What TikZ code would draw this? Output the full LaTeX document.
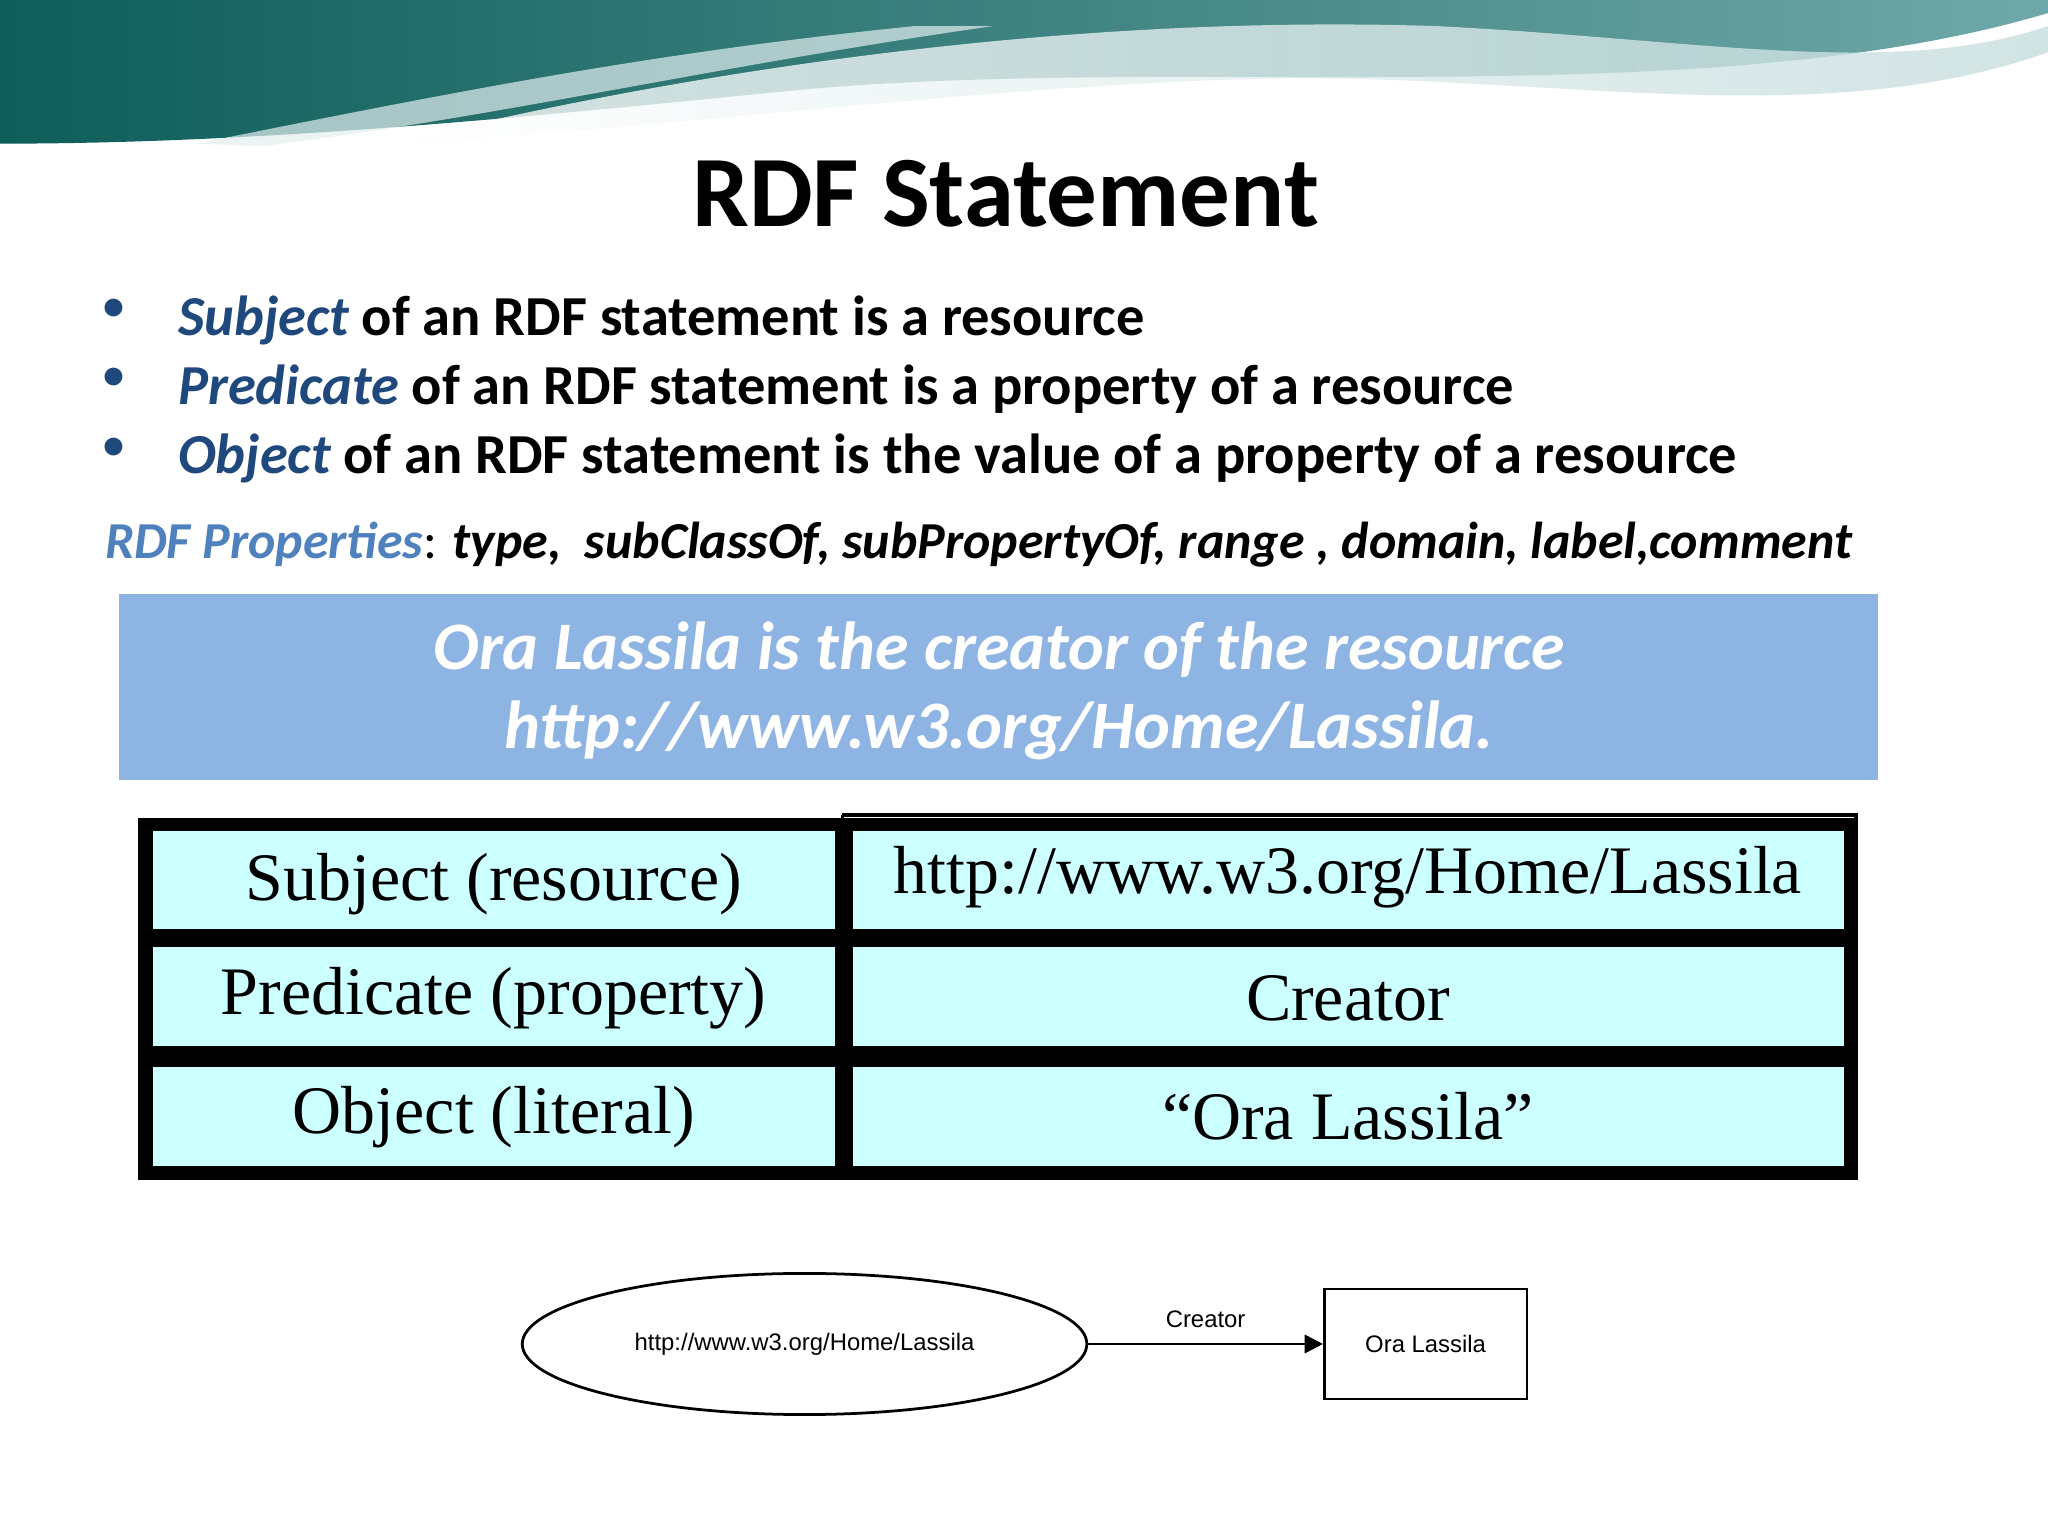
\documentclass[tikz,border=0pt]{standalone}
\usepackage{fontspec}
\setmainfont{Carlito}
\newfontfamily\tms{Liberation Serif}
\newfontfamily\ars{Liberation Sans}
\usetikzlibrary{shapes.geometric,arrows.meta}
\definecolor{boxblue}{HTML}{8EB4E3}
\definecolor{kwblue}{HTML}{1F497D}
\definecolor{propblue}{HTML}{4F81BD}
\definecolor{cell}{HTML}{CCFFFF}
\definecolor{teal1}{HTML}{0E5E5A}
\definecolor{teal2}{HTML}{6FA8A8}
\begin{document}
\begin{tikzpicture}[x=0.01cm,y=-0.01cm,
  bul/.style={anchor=west,font=\fontsize{12.3}{15}\selectfont\bfseries},
  tt/.style={font=\tms\fontsize{14.8}{18}\selectfont},
  small/.style={font=\ars\fontsize{5.2}{6}\selectfont}]
\useasboundingbox (0,0) rectangle (1568,1176);
% banner
\shade[left color=teal1,right color=teal2] (0,0) -- (1568,0) -- (1568,10) .. controls (1300,90) and (900,40) .. (600,70) .. controls (400,90) and (200,110) .. (0,110) -- cycle;
\shade[left color=white,right color=teal2!40,opacity=0.8] (300,110) .. controls (500,60) and (800,10) .. (1100,20) .. controls (1300,30) and (1450,60) .. (1568,20) -- (1568,40) .. controls (1400,100) and (1200,60) .. (1000,60) .. controls (800,60) and (500,100) .. (300,110) -- cycle;
\fill[white!80!teal2,opacity=0.7] (150,110) .. controls (350,70) and (500,40) .. (700,20) -- (760,20) .. controls (550,50) and (380,90) .. (200,112) -- cycle;
% title
\node[font=\fontsize{22}{26}\selectfont\bfseries] (title) at (770,148) {RDF Statement};
% bullets
\foreach \y/\k/\t [count=\i] in {245/Subject/of an RDF statement is a resource,298/Predicate/of an RDF statement is a property of a resource,351/Object/of an RDF statement is the value of a property of a resource}{
  \node[anchor=center,font=\fontsize{10}{12}\selectfont] (b\i) at (87,\y-8) {\textcolor{kwblue}{$\bullet$}};
  \node[bul] (t\i) at (124,\y) {\textcolor{kwblue}{\itshape \k} \t};
}
\node[anchor=west,font=\fontsize{11.3}{14}\selectfont\bfseries\itshape] (props) at (68,417) {\textcolor{propblue}{RDF Properties}\upshape\mdseries: \itshape\bfseries type,~ subClassOf, subPropertyOf, range , domain, label,comment};
% blue box
\fill[boxblue] (91,455) rectangle (1438,597);
\node[text=white,font=\fontsize{14.8}{17}\selectfont\bfseries\itshape] (l1) at (765,497) {Ora Lassila is the creator of the resource};
\node[text=white,font=\fontsize{14.8}{17}\selectfont\bfseries\itshape] (l2) at (765,559) {http://www.w3.org/Home/Lassila.};
% table
\draw[line width=0.8pt] (107,628) rectangle (1421,902);
\foreach \a/\b in {632/715,721/805,813/897}{
  \filldraw[fill=cell,draw=black,line width=2.3pt] (113,\a) rectangle (643,\b);
  \filldraw[fill=cell,draw=black,line width=2.3pt] (649,\a) rectangle (1416,\b);
}
\draw[line width=0.8pt] (645,624) -- (645,902);
\draw[line width=0.8pt] (645,624) -- (1421,624) -- (1421,628);
\node[tt] (s) at (378,677) {Subject (resource)};
\node[tt] (p) at (378,764) {Predicate (property)};
\node[tt] (o) at (378,855) {Object (literal)};
\node[tt] (sv) at (1032,672) {http://www.w3.org/Home/Lassila};
\node[tt] (pv) at (1032,764) {Creator};
\node[tt] (ov) at (1032,855) {“Ora Lassila”};
% graph
\node[ellipse,draw,line width=0.6pt,inner sep=0pt,minimum width=4.32cm,minimum height=1.08cm,small] (e) at (616,1029) {http://www.w3.org/Home/Lassila};
\node[draw,line width=0.6pt,minimum width=1.55cm,minimum height=0.84cm,small] (r) at (1091.5,1029) {Ora Lassila};
\draw[line width=0.6pt,-{Triangle[length=4pt,width=4pt]}] (e.east) -- (r.west) node[midway,above,small] (c) {Creator};
\end{tikzpicture}
\end{document}
